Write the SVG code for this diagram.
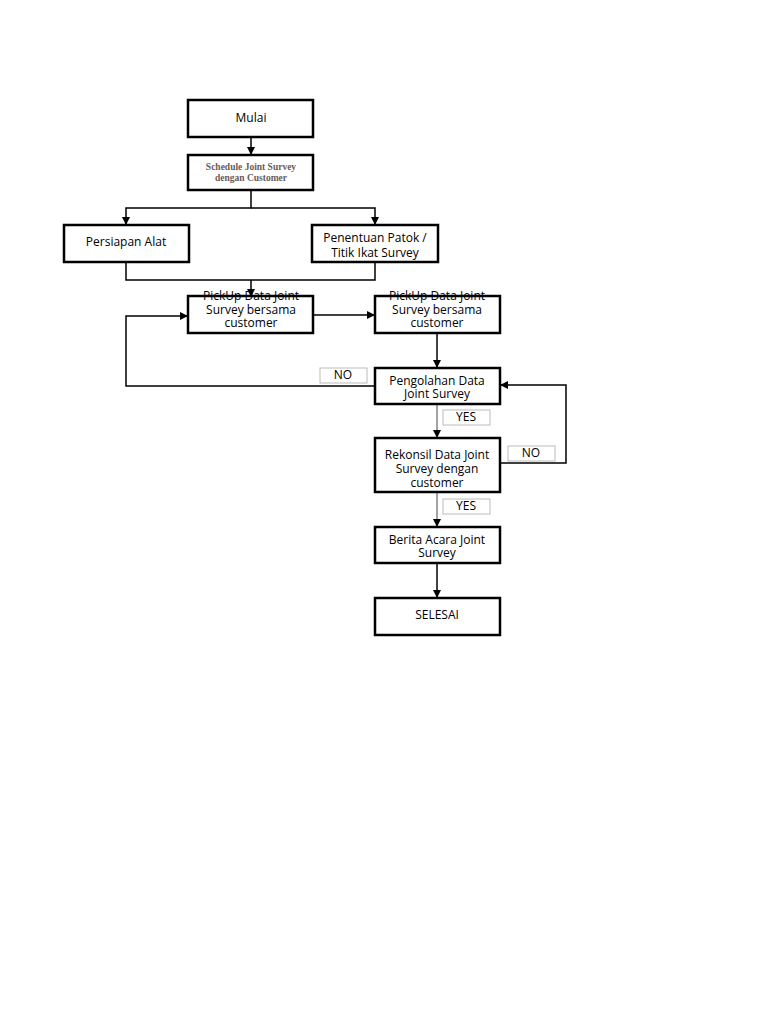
<svg xmlns="http://www.w3.org/2000/svg" width="768" height="1024" viewBox="0 0 768 1024">
<style>
.b{fill:#fff;stroke:#000;stroke-width:2.5}
.l{fill:#fff;stroke:#bbb;stroke-width:1}
.t{font-family:"Open Sans","DejaVu Sans",sans-serif;font-size:12px;text-anchor:middle;fill:#000}
.s{font-family:"Liberation Serif",serif;font-size:9.5px;font-weight:bold;text-anchor:middle;fill:#6b5a5a}
.c{fill:none;stroke:#000;stroke-width:1.5}
.g{fill:none;stroke:#666;stroke-width:1.2}
</style>
<defs><marker id="a" markerWidth="8" markerHeight="8" refX="7" refY="4" orient="auto" markerUnits="userSpaceOnUse"><path d="M0,0L8,4L0,8z" fill="#000"/></marker></defs>
<rect width="768" height="1024" fill="#fff"/>
<g id="connectors">
<path class="c" d="M251,137V154" marker-end="url(#a)"/>
<path class="c" d="M251,190V208H126V224" marker-end="url(#a)"/>
<path class="c" d="M251,208H375V224" marker-end="url(#a)"/>
<path class="c" d="M126,262V280H375V262"/>
<path class="c" d="M251,280V296" marker-end="url(#a)"/>
<path class="c" d="M313,315H374" marker-end="url(#a)"/>
<path class="c" d="M437,333V367" marker-end="url(#a)"/>
<path class="c" d="M375,386H126V316H187" marker-end="url(#a)"/>
<path class="g" d="M437,404V437" marker-end="url(#a)"/>
<path class="c" d="M500,463H566V385H501" marker-end="url(#a)"/>
<path class="g" d="M437,492V526" marker-end="url(#a)"/>
<path class="c" d="M437,563V597" marker-end="url(#a)"/>
</g>
<g id="n1"><rect class="b" x="188" y="100" width="125" height="37"/><text class="t" x="251" y="122">Mulai</text></g>
<g id="n2"><rect class="b" x="188" y="155" width="125" height="35"/><text class="s" x="251" y="170">Schedule Joint  Survey</text><text class="s" x="251" y="181">dengan Customer</text></g>
<g id="n3"><rect class="b" x="64" y="225" width="125" height="37"/><text class="t" x="126" y="246">Persiapan Alat</text></g>
<g id="n4"><rect class="b" x="312" y="225" width="126" height="37"/><text class="t" x="375" y="242">Penentuan Patok /</text><text class="t" x="375" y="257">Titik Ikat Survey</text></g>
<g id="n5"><rect class="b" x="188" y="296" width="125" height="37"/><text class="t" x="251" y="300">PickUp Data Joint</text><text class="t" x="251" y="314">Survey bersama</text><text class="t" x="251" y="327">customer</text></g>
<g id="n6"><rect class="b" x="375" y="296" width="125" height="37"/><text class="t" x="437" y="300">PickUp Data Joint</text><text class="t" x="437" y="314">Survey bersama</text><text class="t" x="437" y="327">customer</text></g>
<g id="n7"><rect class="b" x="375" y="368" width="125" height="36"/><text class="t" x="437" y="385">Pengolahan Data</text><text class="t" x="437" y="398">Joint Survey</text></g>
<g id="n8"><rect class="b" x="375" y="438" width="125" height="54"/><text class="t" x="437" y="459">Rekonsil Data Joint</text><text class="t" x="437" y="473">Survey dengan</text><text class="t" x="437" y="487">customer</text></g>
<g id="n9"><rect class="b" x="375" y="527" width="125" height="36"/><text class="t" x="437" y="544">Berita Acara Joint</text><text class="t" x="437" y="557">Survey</text></g>
<g id="n10"><rect class="b" x="375" y="598" width="125" height="37"/><text class="t" x="437" y="619">SELESAI</text></g>
<g id="labels">
<rect class="l" x="320" y="368" width="47" height="15"/><text class="t" x="343" y="379">NO</text>
<rect class="l" x="443" y="410" width="47" height="15"/><text class="t" x="466" y="421">YES</text>
<rect class="l" x="508" y="446" width="47" height="15"/><text class="t" x="531" y="457">NO</text>
<rect class="l" x="443" y="499" width="47" height="15"/><text class="t" x="466" y="510">YES</text>
</g>
</svg>
